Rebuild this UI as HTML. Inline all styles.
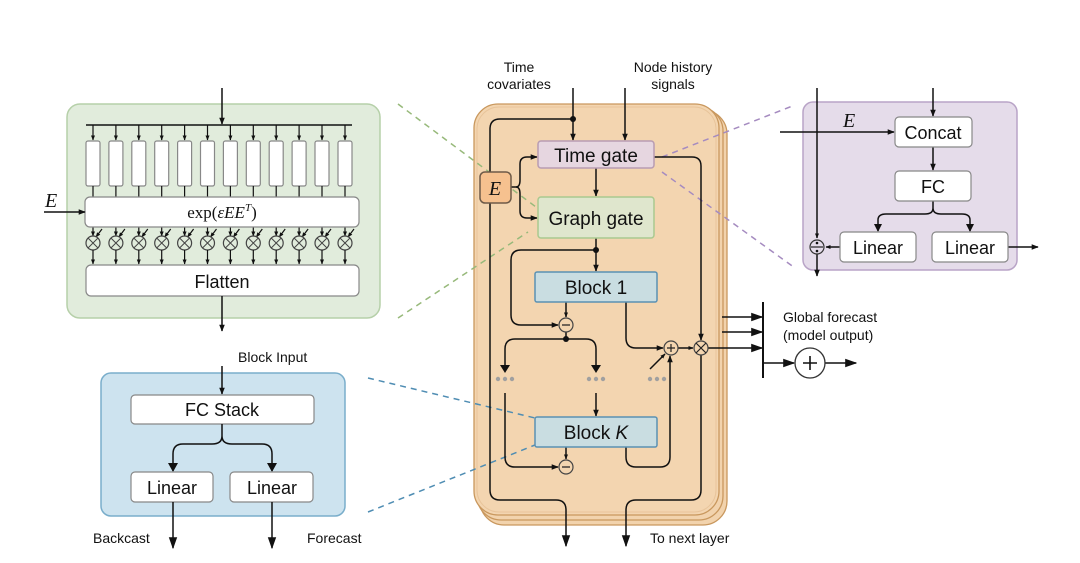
<!DOCTYPE html>
<html><head><meta charset="utf-8"><style>
html,body{margin:0;padding:0;background:#fff;}
svg{display:block;}
text{font-family:"Liberation Sans",sans-serif;fill:#111;}
.serif{font-family:"Liberation Serif",serif;font-style:italic;}
</style></head><body>
<svg width="1080" height="563" viewBox="0 0 1080 563" xmlns="http://www.w3.org/2000/svg">
<defs>
<marker id="a" viewBox="0 0 10 10" refX="9" refY="5" markerWidth="7" markerHeight="7" orient="auto-start-reverse" markerUnits="userSpaceOnUse"><path d="M0,1 L10,5 L0,9 z" fill="#111"/></marker>
<marker id="as" viewBox="0 0 10 10" refX="9" refY="5" markerWidth="5" markerHeight="5" orient="auto" markerUnits="userSpaceOnUse"><path d="M0,1 L10,5 L0,9 z" fill="#111"/></marker>
<marker id="ab" viewBox="0 0 10 10" refX="9" refY="5" markerWidth="12" markerHeight="12" orient="auto" markerUnits="userSpaceOnUse"><path d="M0,1.5 L10,5 L0,8.5 z" fill="#111"/></marker>
<g id="col" stroke="#111" stroke-width="1.2" fill="none">
<line x1="0" y1="125" x2="0" y2="140" marker-end="url(#as)"/>
<rect x="-7" y="141" width="14" height="45" rx="2" fill="#fff" stroke="#888"/>
<line x1="0" y1="186" x2="0" y2="197"/>
<line x1="0" y1="227" x2="0" y2="236" marker-end="url(#as)"/>
<line x1="9" y1="229" x2="3" y2="237" marker-end="url(#as)"/>
<circle cx="0" cy="243" r="7" fill="none" stroke="#444"/>
<path d="M-5,238 L5,248 M5,238 L-5,248" stroke="#444" stroke-width="1"/>
<line x1="0" y1="250" x2="0" y2="264" marker-end="url(#as)"/>
</g>
</defs>

<!-- green box -->
<rect x="67" y="104" width="313" height="214" rx="13" fill="#e1ecdc" stroke="#b6d0a9" stroke-width="1.5"/>
<line x1="222" y1="88" x2="222" y2="124" stroke="#111" stroke-width="1.5" marker-end="url(#a)"/>
<line x1="86" y1="125" x2="352" y2="125" stroke="#111" stroke-width="1.5"/>
<use href="#col" x="93"/><use href="#col" x="115.9"/><use href="#col" x="138.8"/><use href="#col" x="161.7"/>
<use href="#col" x="184.6"/><use href="#col" x="207.5"/><use href="#col" x="230.4"/><use href="#col" x="253.3"/>
<use href="#col" x="276.2"/><use href="#col" x="299.1"/><use href="#col" x="322"/><use href="#col" x="345"/>
<rect x="85" y="197" width="274" height="30" rx="5" fill="#fff" stroke="#888" stroke-width="1.2"/>
<text x="222" y="218" text-anchor="middle" font-size="17" style="font-family:'Liberation Serif',serif">exp(<tspan font-style="italic">εEE</tspan><tspan font-style="italic" font-size="11" dy="-7">T</tspan><tspan dy="7">)</tspan></text>
<text x="45" y="207" class="serif" font-size="20">E</text>
<line x1="44" y1="212" x2="85" y2="212" stroke="#111" stroke-width="1.5" marker-end="url(#a)"/>
<rect x="86" y="265" width="273" height="31" rx="5" fill="#fff" stroke="#888" stroke-width="1.2"/>
<text x="222" y="288" text-anchor="middle" font-size="18">Flatten</text>
<line x1="222" y1="296" x2="222" y2="331" stroke="#111" stroke-width="1.5" marker-end="url(#a)"/>

<!-- blue box -->
<text x="238" y="362" font-size="14">Block Input</text>
<rect x="101" y="373" width="244" height="143" rx="10" fill="#cde3ef" stroke="#7aaecb" stroke-width="1.5"/>
<line x1="222" y1="366" x2="222" y2="394" stroke="#111" stroke-width="1.5" marker-end="url(#a)"/>
<rect x="131" y="395" width="183" height="29" rx="4" fill="#fff" stroke="#888" stroke-width="1.2"/>
<text x="222" y="416" text-anchor="middle" font-size="18">FC Stack</text>
<path d="M222,424 V436 Q222,444 212,444 H183 Q173,444 173,454 V471 M222,436 Q222,444 232,444 H262 Q272,444 272,454 V471" stroke="#111" stroke-width="1.5" fill="none"/>
<path d="M168,463 L173,472 L178,463 z M267,463 L272,472 L277,463 z" fill="#111"/>
<rect x="131" y="472" width="82" height="30" rx="4" fill="#fff" stroke="#888" stroke-width="1.2"/>
<text x="172" y="494" text-anchor="middle" font-size="18">Linear</text>
<rect x="230" y="472" width="83" height="30" rx="4" fill="#fff" stroke="#888" stroke-width="1.2"/>
<text x="272" y="494" text-anchor="middle" font-size="18">Linear</text>
<line x1="173" y1="502" x2="173" y2="548" stroke="#111" stroke-width="1.5" marker-end="url(#ab)"/>
<line x1="272" y1="502" x2="272" y2="548" stroke="#111" stroke-width="1.5" marker-end="url(#ab)"/>
<text x="93" y="543" font-size="14">Backcast</text>
<text x="307" y="543" font-size="14">Forecast</text>

<!-- center stack -->
<text x="519" y="72" text-anchor="middle" font-size="14">Time</text>
<text x="519" y="89" text-anchor="middle" font-size="14">covariates</text>
<text x="673" y="72" text-anchor="middle" font-size="14">Node history</text>
<text x="673" y="89" text-anchor="middle" font-size="14">signals</text>
<rect x="480" y="110" width="247" height="415" rx="24" fill="#f2d3ad" stroke="#c9985e" stroke-width="1.3"/>
<rect x="477" y="107" width="246" height="413" rx="24" fill="#f2d3ad" stroke="#c9985e" stroke-width="1.3"/>
<rect x="474" y="104" width="245" height="411" rx="24" fill="#f3d5b0" stroke="#c9985e" stroke-width="1.3"/>
<rect x="477" y="107" width="239" height="405" rx="22" fill="none" stroke="#e8c49a" stroke-width="1"/>

<!-- dashed connectors (over the stack) -->
<g stroke-width="1.5" stroke-dasharray="6,5" fill="none">
<line x1="398" y1="104" x2="540" y2="210" stroke="#97b97a"/>
<line x1="398" y1="318" x2="528" y2="232" stroke="#97b97a"/>
<line x1="368" y1="378" x2="535" y2="418" stroke="#4f8db3"/>
<line x1="368" y1="512" x2="535" y2="445" stroke="#4f8db3"/>
<line x1="662" y1="157" x2="795" y2="105" stroke="#a58bc0"/>
<line x1="662" y1="172" x2="795" y2="268" stroke="#a58bc0"/>
</g>

<g stroke="#111" stroke-width="1.5" fill="none">
<line x1="573" y1="88" x2="573" y2="140" marker-end="url(#a)"/>
<line x1="625" y1="88" x2="625" y2="140" marker-end="url(#a)"/>
<path d="M573,119 H500 Q490,119 490,129 V490 Q490,500 500,500 H556 Q566,500 566,510 V546" marker-end="url(#ab)"/>
<path d="M701,355 V490 Q701,500 691,500 H636 Q626,500 626,510 V546" marker-end="url(#ab)"/>
<path d="M654,157 H692 Q701,157 701,166 V340" marker-end="url(#a)"/>
<path d="M511,187 H516 Q520,187 520,180 V164 Q520,157 527,157 H537" marker-end="url(#a)"/>
<path d="M516,187 Q520,187 520,194 V211 Q520,218 527,218 H537" marker-end="url(#a)"/>
<line x1="596" y1="168" x2="596" y2="196" marker-end="url(#a)"/>
<line x1="596" y1="238" x2="596" y2="271" marker-end="url(#a)"/>
<path d="M596,250 H521 Q511,250 511,260 V315 Q511,325 521,325 H558" marker-end="url(#a)"/>
<line x1="566" y1="302" x2="566" y2="317" marker-end="url(#as)"/>
<path d="M566,332 V339 M566,339 H515 Q505,339 505,349 V365 M566,339 H586 Q596,339 596,349 V365"/>
<path d="M505,393 V457 Q505,467 515,467 H558" marker-end="url(#a)"/>
<line x1="596" y1="393" x2="596" y2="416" marker-end="url(#a)"/>
<line x1="566" y1="447" x2="566" y2="459" marker-end="url(#as)"/>
<path d="M626,302 V338 Q626,348 636,348 H663" marker-end="url(#a)"/>
<path d="M626,447 V457 Q626,467 636,467 H660 Q670,467 670,457 V356" marker-end="url(#a)"/>
<line x1="650" y1="369" x2="665" y2="354" marker-end="url(#as)"/>
<line x1="678" y1="348" x2="693" y2="348" marker-end="url(#as)"/>
<line x1="708" y1="348" x2="762" y2="348" marker-end="url(#ab)"/>
<line x1="722" y1="332" x2="762" y2="332" marker-end="url(#ab)"/>
<line x1="722" y1="317" x2="762" y2="317" marker-end="url(#ab)"/>
<line x1="763" y1="302" x2="763" y2="378" stroke-width="2"/>
<line x1="763" y1="363" x2="794" y2="363" marker-end="url(#ab)"/>
<line x1="825" y1="363" x2="856" y2="363" marker-end="url(#ab)"/>
</g>
<path d="M500,365 L505,373 L510,365 z" fill="#111"/>
<path d="M591,365 L596,373 L601,365 z" fill="#111"/>
<circle cx="573" cy="119" r="3" fill="#111"/>
<circle cx="596" cy="250" r="3" fill="#111"/>
<circle cx="566" cy="339" r="3" fill="#111"/>

<rect x="538" y="141" width="116" height="27" rx="3" fill="#e6d6e0" stroke="#b89cb2" stroke-width="1.5"/>
<text x="596" y="162" text-anchor="middle" font-size="19">Time gate</text>
<rect x="538" y="197" width="116" height="41" rx="3" fill="#dfe6cd" stroke="#a9c98f" stroke-width="1.5"/>
<text x="596" y="225" text-anchor="middle" font-size="19">Graph gate</text>
<rect x="480" y="172" width="31" height="31" rx="5" fill="#f6c18f" stroke="#6e5a48" stroke-width="1.5"/>
<text x="495" y="195" text-anchor="middle" class="serif" font-size="20">E</text>
<rect x="535" y="272" width="122" height="30" rx="2" fill="#c9dde1" stroke="#5b91b3" stroke-width="1.5"/>
<text x="596" y="294" text-anchor="middle" font-size="19">Block 1</text>
<rect x="535" y="417" width="122" height="30" rx="2" fill="#c9dde1" stroke="#5b91b3" stroke-width="1.5"/>
<text x="596" y="439" text-anchor="middle" font-size="19">Block <tspan font-style="italic">K</tspan></text>

<g fill="#f3d5b0" stroke="#444" stroke-width="1.2">
<circle cx="566" cy="325" r="7"/><circle cx="566" cy="467" r="7"/>
<circle cx="671" cy="348" r="7"/><circle cx="701" cy="348" r="7"/>
</g>
<path d="M562,325 H570 M562,467 H570 M667,348 H675 M671,344 V352 M696,343 L706,353 M706,343 L696,353" stroke="#222" stroke-width="1.2"/>
<g fill="#a0a0a0">
<circle cx="498" cy="379" r="2.2"/><circle cx="505" cy="379" r="2.2"/><circle cx="512" cy="379" r="2.2"/>
<circle cx="589" cy="379" r="2.2"/><circle cx="596" cy="379" r="2.2"/><circle cx="603" cy="379" r="2.2"/>
<circle cx="650" cy="379" r="2.2"/><circle cx="657" cy="379" r="2.2"/><circle cx="664" cy="379" r="2.2"/>
</g>
<text x="650" y="543" font-size="14">To next layer</text>
<text x="783" y="322" font-size="14">Global forecast</text>
<text x="783" y="340" font-size="14">(model output)</text>
<circle cx="810" cy="363" r="15" fill="#fff" stroke="#333" stroke-width="1.3"/>
<path d="M803,363 H817 M810,356 V370" stroke="#111" stroke-width="1.6"/>

<!-- purple box -->
<rect x="803" y="102" width="214" height="168" rx="10" fill="#e5dcea" stroke="#b9a4c7" stroke-width="1.5"/>
<g stroke="#111" stroke-width="1.5" fill="none">
<line x1="817" y1="88" x2="817" y2="238" marker-end="url(#as)"/>
<line x1="817" y1="254" x2="817" y2="276" marker-end="url(#a)"/>
<line x1="780" y1="132" x2="894" y2="132" marker-end="url(#a)"/>
<line x1="933" y1="88" x2="933" y2="116" marker-end="url(#a)"/>
<line x1="933" y1="147" x2="933" y2="170" marker-end="url(#a)"/>
<path d="M933,201 V208 Q933,214 925,214 H886 Q878,214 878,220 V231 M933,208 Q933,214 941,214 H962 Q970,214 970,220 V231"/>
<line x1="840" y1="247" x2="826" y2="247" marker-end="url(#as)"/>
<line x1="1008" y1="247" x2="1038" y2="247" marker-end="url(#a)"/>
</g>
<path d="M874,224 L878,232 L882,224 z M966,224 L970,232 L974,224 z" fill="#111"/>
<circle cx="817" cy="247" r="7" fill="#e5dcea" stroke="#333" stroke-width="1.2"/>
<path d="M811,247 H823" stroke="#222" stroke-width="1.2"/>
<circle cx="817" cy="243" r="1.3" fill="#111"/><circle cx="817" cy="251" r="1.3" fill="#111"/>
<text x="843" y="127" class="serif" font-size="20">E</text>
<rect x="895" y="117" width="77" height="30" rx="4" fill="#fff" stroke="#888" stroke-width="1.2"/>
<text x="933" y="139" text-anchor="middle" font-size="18">Concat</text>
<rect x="895" y="171" width="76" height="30" rx="4" fill="#fff" stroke="#888" stroke-width="1.2"/>
<text x="933" y="193" text-anchor="middle" font-size="18">FC</text>
<rect x="840" y="232" width="76" height="30" rx="4" fill="#fff" stroke="#888" stroke-width="1.2"/>
<text x="878" y="254" text-anchor="middle" font-size="18">Linear</text>
<rect x="932" y="232" width="76" height="30" rx="4" fill="#fff" stroke="#888" stroke-width="1.2"/>
<text x="970" y="254" text-anchor="middle" font-size="18">Linear</text>
</svg>
</body></html>
